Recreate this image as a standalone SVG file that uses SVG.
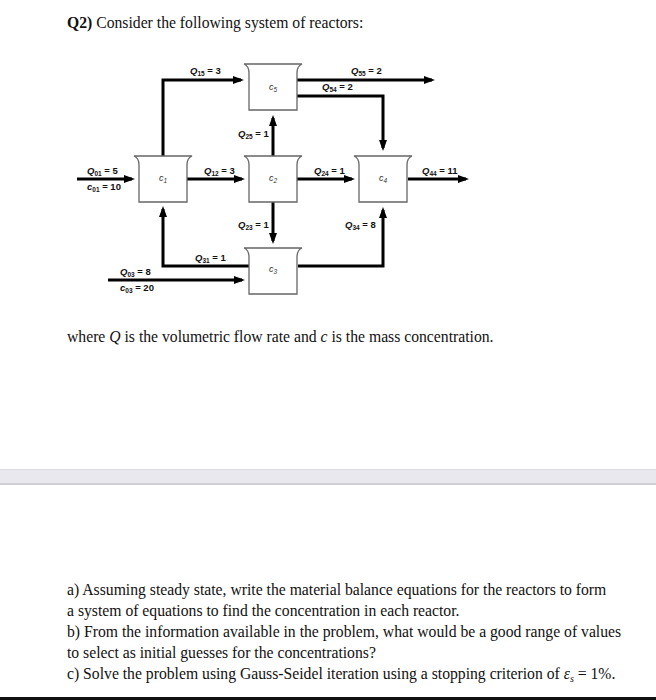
<svg xmlns="http://www.w3.org/2000/svg" width="656" height="700" viewBox="0 0 656 700">
<style>
.t{font-family:"Liberation Serif","Times New Roman",serif;font-size:15.7px;fill:#111}
.lb{font-family:"Liberation Sans",Arial,sans-serif;font-size:9.5px;font-weight:bold;fill:#111}
.i{font-style:italic}
.sub{font-size:6.5px}
.rl{font-family:"Liberation Sans",Arial,sans-serif;font-size:9px;font-style:italic;fill:#333;text-anchor:middle}
.flow{fill:none;stroke:#000;stroke-width:3;marker-end:url(#ah)}
.reactor{fill:#fff;stroke:#666;stroke-width:1.3}
</style>
<defs>
<marker id="ah" markerUnits="userSpaceOnUse" markerWidth="11" markerHeight="9" refX="8" refY="4" orient="auto">
<path d="M0,0 L11,4 L0,8 z" fill="#000"/>
</marker>
<path id="rx" class="reactor" d="M-5,0 H53 Q48,2 48,9 V46 H0 V9 Q0,2 -5,0 Z"/>
</defs>
<rect width="656" height="700" fill="#fff"/>

<text class="t" x="67" y="28"><tspan font-weight="bold">Q2)</tspan> Consider the following system of reactors:</text>

<g id="connectors">
<path class="flow" d="M163,156 V80 H241"/>
<path class="flow" d="M297,80 H432"/>
<path class="flow" d="M297,96 H383 V148"/>
<path class="flow" d="M273,156 V118"/>
<path class="flow" d="M77,179 H132"/>
<path class="flow" d="M187,179 H242"/>
<path class="flow" d="M297,179 H352"/>
<path class="flow" d="M408,179 H466"/>
<path class="flow" d="M273,202 V241"/>
<path class="flow" d="M249,266 H163 V209"/>
<path class="flow" d="M108,280 H242"/>
<path class="flow" d="M298,266 H383 V210"/>
</g>

<g id="reactor-c5"><use href="#rx" x="249" y="64"/><text class="rl" x="273" y="90">c<tspan class="sub" dy="2">5</tspan></text></g>
<g id="reactor-c1"><use href="#rx" x="139" y="156"/><text class="rl" x="163" y="181">c<tspan class="sub" dy="2">1</tspan></text></g>
<g id="reactor-c2"><use href="#rx" x="249" y="156"/><text class="rl" x="273" y="181">c<tspan class="sub" dy="2">2</tspan></text></g>
<g id="reactor-c4"><use href="#rx" x="359" y="156"/><text class="rl" x="383" y="181">c<tspan class="sub" dy="2">4</tspan></text></g>
<g id="reactor-c3"><use href="#rx" x="249" y="248"/><text class="rl" x="273" y="272">c<tspan class="sub" dy="2">3</tspan></text></g>

<g id="labels">
<text class="lb" x="190" y="74"><tspan class="i">Q</tspan><tspan class="sub" dy="1.5">15</tspan><tspan dy="-1.5"> = 3</tspan></text>
<text class="lb" x="351" y="74"><tspan class="i">Q</tspan><tspan class="sub" dy="1.5">55</tspan><tspan dy="-1.5"> = 2</tspan></text>
<text class="lb" x="322" y="90"><tspan class="i">Q</tspan><tspan class="sub" dy="1.5">54</tspan><tspan dy="-1.5"> = 2</tspan></text>
<text class="lb" x="238" y="137"><tspan class="i">Q</tspan><tspan class="sub" dy="1.5">25</tspan><tspan dy="-1.5"> = 1</tspan></text>
<text class="lb" x="87" y="174"><tspan class="i">Q</tspan><tspan class="sub" dy="1.5">01</tspan><tspan dy="-1.5"> = 5</tspan></text>
<text class="lb" x="87" y="190"><tspan class="i">c</tspan><tspan class="sub" dy="1.5">01</tspan><tspan dy="-1.5"> = 10</tspan></text>
<text class="lb" x="204" y="174"><tspan class="i">Q</tspan><tspan class="sub" dy="1.5">12</tspan><tspan dy="-1.5"> = 3</tspan></text>
<text class="lb" x="314" y="174"><tspan class="i">Q</tspan><tspan class="sub" dy="1.5">24</tspan><tspan dy="-1.5"> = 1</tspan></text>
<text class="lb" x="422" y="174"><tspan class="i">Q</tspan><tspan class="sub" dy="1.5">44</tspan><tspan dy="-1.5"> = 11</tspan></text>
<text class="lb" x="238" y="228"><tspan class="i">Q</tspan><tspan class="sub" dy="1.5">23</tspan><tspan dy="-1.5"> = 1</tspan></text>
<text class="lb" x="345" y="228"><tspan class="i">Q</tspan><tspan class="sub" dy="1.5">34</tspan><tspan dy="-1.5"> = 8</tspan></text>
<text class="lb" x="195" y="261"><tspan class="i">Q</tspan><tspan class="sub" dy="1.5">31</tspan><tspan dy="-1.5"> = 1</tspan></text>
<text class="lb" x="120" y="275"><tspan class="i">Q</tspan><tspan class="sub" dy="1.5">03</tspan><tspan dy="-1.5"> = 8</tspan></text>
<text class="lb" x="120" y="291"><tspan class="i">c</tspan><tspan class="sub" dy="1.5">03</tspan><tspan dy="-1.5"> = 20</tspan></text>
</g>

<text class="t" x="67" y="342">where <tspan class="i">Q</tspan> is the volumetric flow rate and <tspan class="i">c</tspan> is the mass concentration.</text>

<rect x="0" y="469" width="656" height="16" fill="#e9e8ef"/>
<rect x="0" y="469" width="656" height="1" fill="#dddce3"/>
<rect x="0" y="483" width="656" height="2" fill="#cfced6"/>

<text class="t" x="67" y="595">a) Assuming steady state, write the material balance equations for the reactors to form</text>
<text class="t" x="67" y="616">a system of equations to find the concentration in each reactor.</text>
<text class="t" x="67" y="637">b) From the information available in the problem, what would be a good range of values</text>
<text class="t" x="67" y="658">to select as initial guesses for the concentrations?</text>
<text class="t" x="67" y="679">c) Solve the problem using Gauss-Seidel iteration using a stopping criterion of <tspan class="i">ε</tspan><tspan class="i" font-size="10" dy="3">s</tspan><tspan dy="-3"> = 1%.</tspan></text>

<rect x="0" y="697" width="656" height="3" fill="#111"/>
</svg>
